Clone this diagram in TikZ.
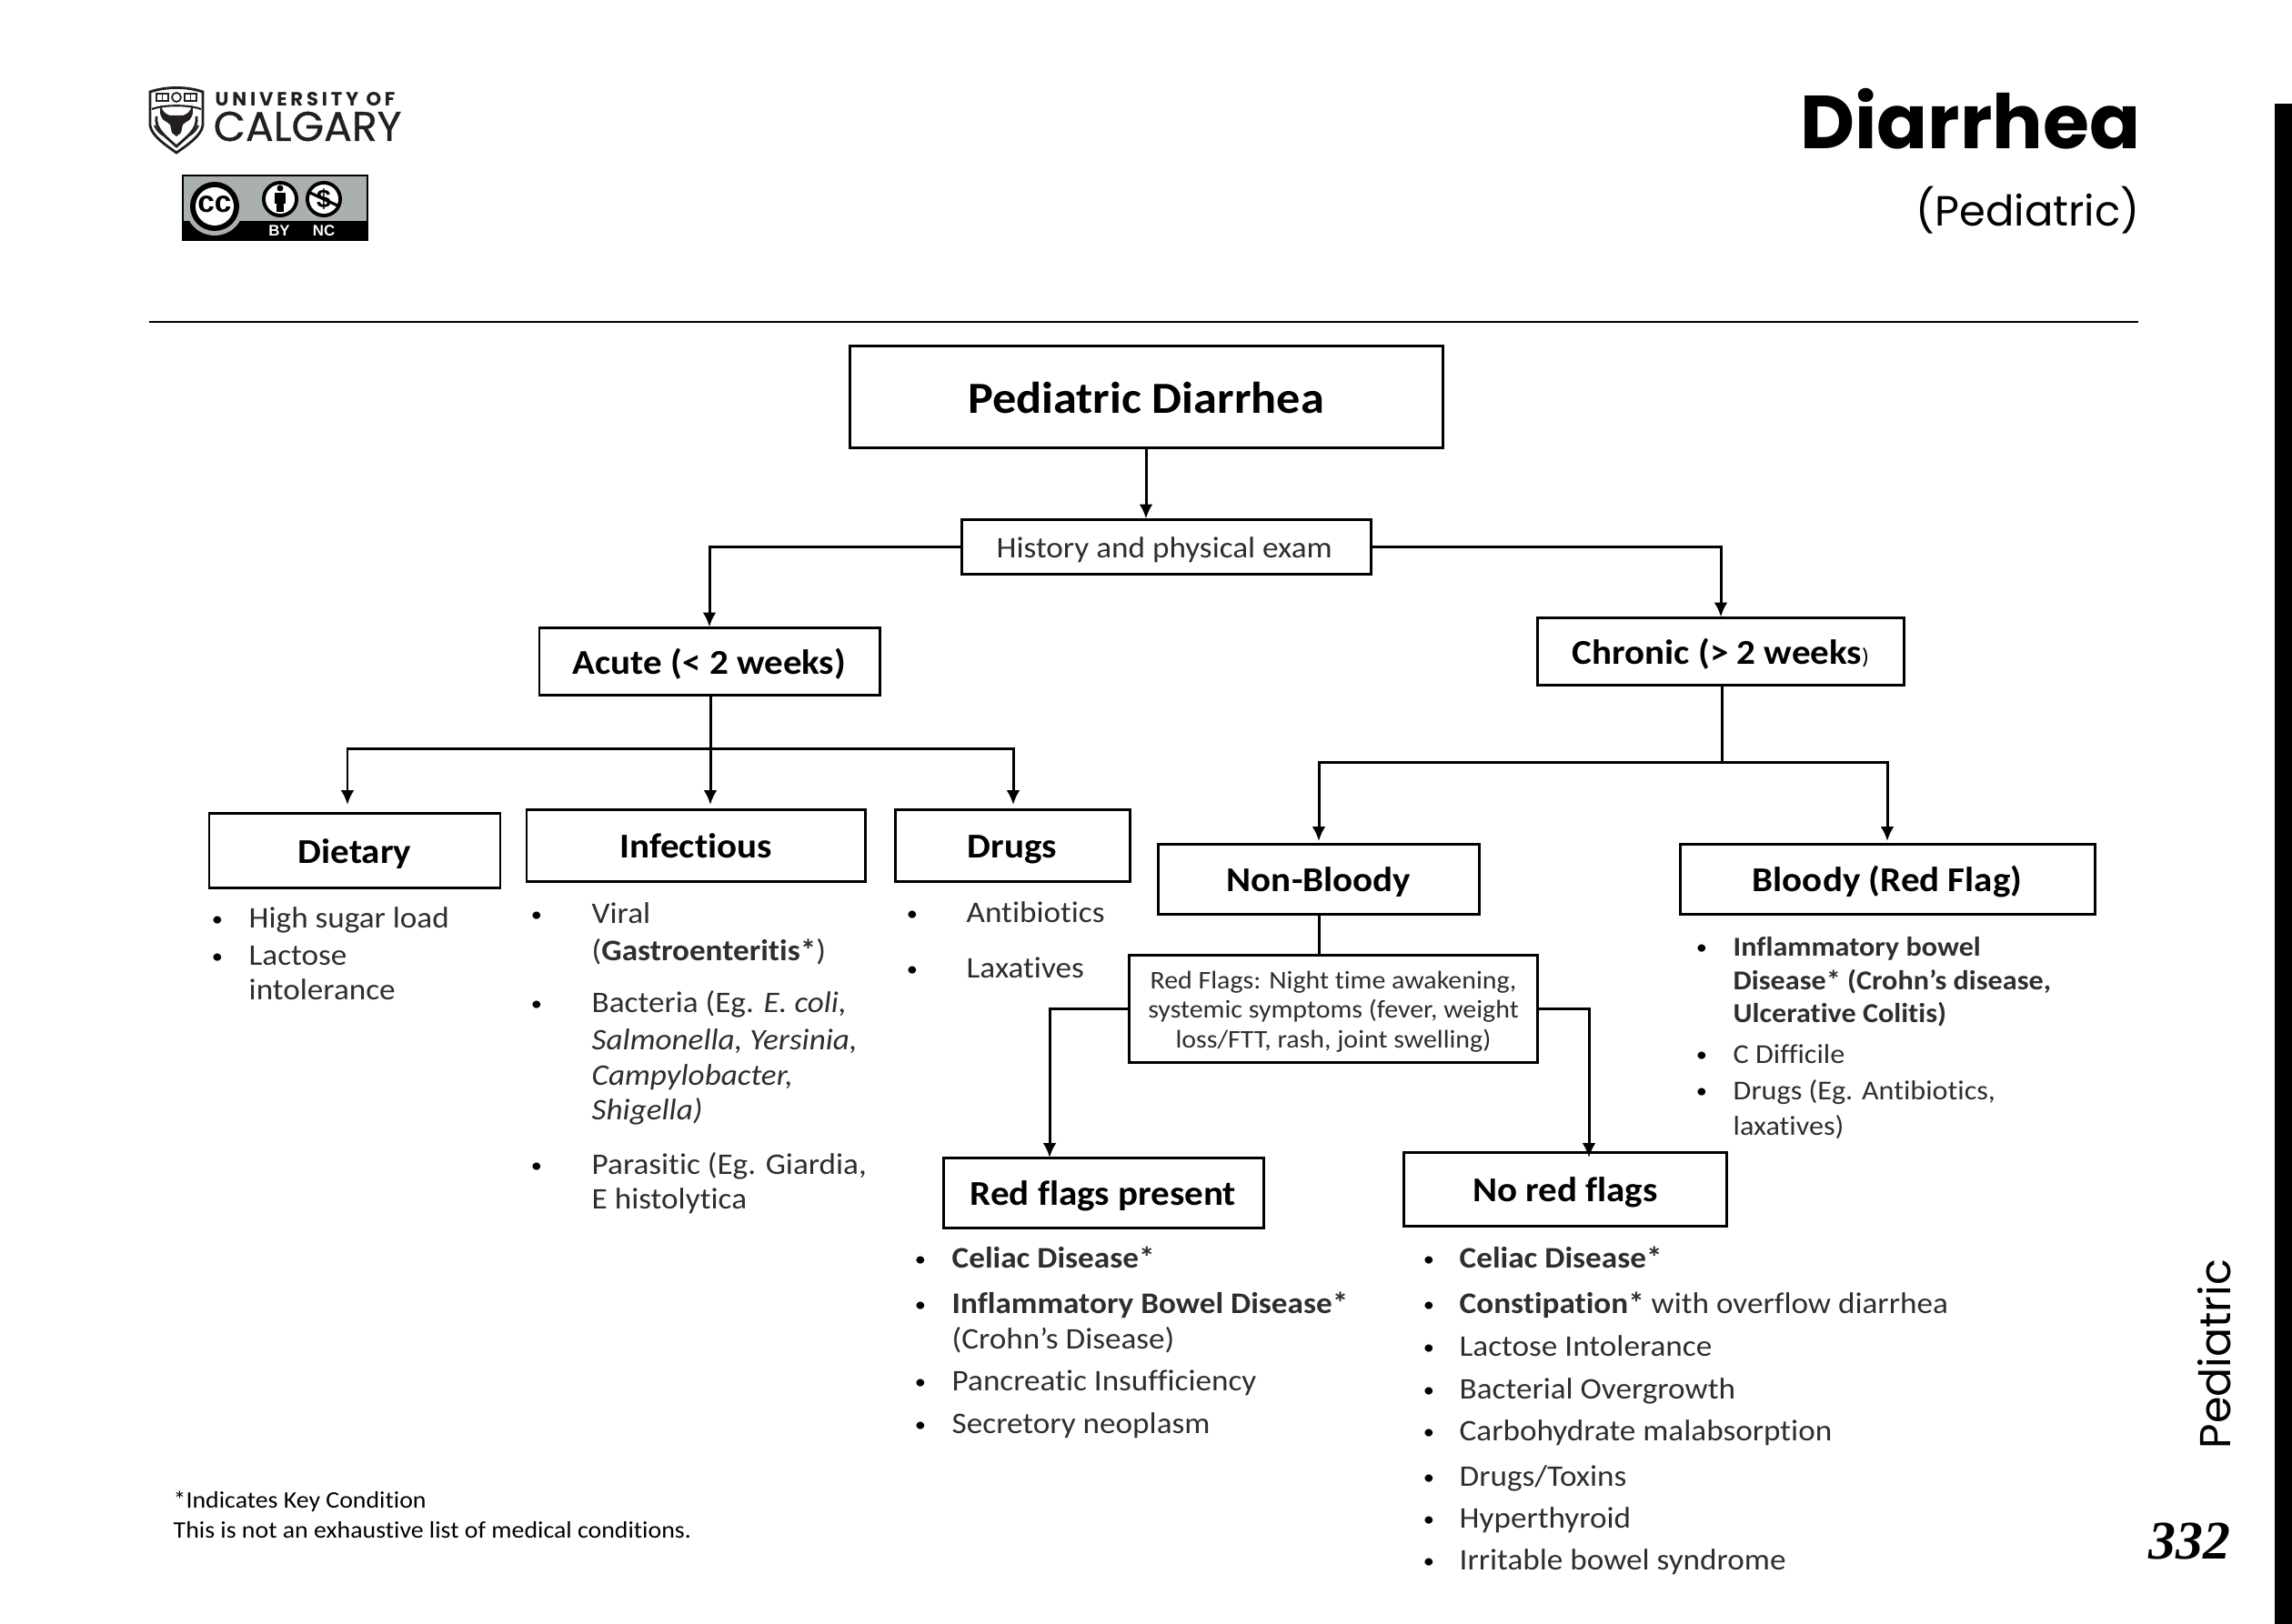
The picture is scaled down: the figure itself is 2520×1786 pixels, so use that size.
\documentclass[tikz,border=0pt]{standalone}
\usepackage{fontspec}
\usepackage{xcolor}
\usepackage{tikz}
\usetikzlibrary{arrows.meta}
\setmainfont[FakeStretch=1.07,Ligatures=NoCommon]{Carlito}
\newfontfamily\headfont{Poppins}
\newfontfamily\pagefont{Liberation Serif}
\newfontfamily\badgefont{Liberation Sans}
\definecolor{bodytext}{HTML}{2E2E2E}
\definecolor{badgegrey}{HTML}{AAB0AB}
\definecolor{logoink}{HTML}{231F20}
\tikzset{
  flowbox/.style={draw=black, line width=0.85pt, fill=white, inner sep=0pt, align=center, text height=8.8pt, text depth=1pt, font=\fontsize{10.9}{12}\selectfont\bfseries},
  flagtext/.style={draw=black, line width=0.85pt, fill=white, inner sep=0pt, align=center, text=bodytext, font=\fontsize{7.95}{9.25}\selectfont},
  lab/.style={anchor=base west, inner sep=0pt, yshift=-0.015cm, text=bodytext, font=\fontsize{9.35}{10}\selectfont},
  smalllab/.style={lab, font=\fontsize{8.55}{9}\selectfont},
  footlab/.style={lab, text=black, font=\fontsize{7.4}{9}\selectfont},
  bul/.style={anchor=base, inner sep=0pt, text=black, font=\fontsize{6.5}{8}\selectfont},
  arr/.style={draw=black, line width=0.85pt, -{Latex[length=4.5pt,width=4.2pt]}},
  plain/.style={draw=black, line width=0.85pt}
}

\begin{document}
\begin{tikzpicture}[x=0.01cm, y=-0.01cm]
  \useasboundingbox (0,0) rectangle (2520,1786);
  \fill[white] (0,0) rectangle (2520,1786);

  % side bar and header rule
  \fill[black] (2501,114) rectangle (2520,1786);
  \draw[black, line width=0.6pt] (164,354) -- (2351,354);

  % logo
  \draw[logoink, line width=0.8pt, fill=white] (165,101) .. controls (183,95) and (205,95) .. (223,101) -- (223,138) .. controls (221,150) and (205,160) .. (194,168) .. controls (183,160) and (167,150) .. (165,138) -- cycle;
  \draw[logoink, line width=0.5pt] (172,103) rectangle (185,111) (203,103) rectangle (216,111);
  \draw[logoink, line width=0.5pt] (178.5,103) -- (178.5,111) (209.5,103) -- (209.5,111);
  \draw[logoink, line width=0.5pt] (194,107) circle (5);
  \draw[logoink, line width=0.6pt] (167,120) .. controls (180,115) and (208,115) .. (221,120);
  \fill[logoink] (177,115) .. controls (178,124) and (184,126) .. (187,127) -- (201,127) .. controls (204,126) and (210,124) .. (211,115) .. controls (214,126) and (210,132) .. (205,134) -- (201,137) -- (199,146) -- (194,150) -- (189,146) -- (187,137) -- (183,134) .. controls (178,132) and (174,126) .. (177,115) -- cycle;
  \draw[logoink, line width=0.8pt] (172,128) .. controls (170,142) and (182,150) .. (194,161) .. controls (206,150) and (218,142) .. (216,128);
  \draw[logoink, line width=0.6pt] (170,138) .. controls (174,146) and (178,148) .. (182,150) (218,138) .. controls (214,146) and (210,148) .. (206,150);
  \node[anchor=base west, inner sep=0pt, text=logoink] (uniname) at (236,117) {\headfont\fontsize{6.0}{7}\selectfont\bfseries\addfontfeatures{LetterSpace=18}UNIVERSITY OF};
  \node[anchor=base west, inner sep=0pt, text=logoink] (calname) at (234,155) {\headfont\fontsize{13}{14}\selectfont\addfontfeatures{FakeBold=0.6}CALGARY};

  % licence badge
  \fill[badgegrey] (201,193) rectangle (404,264);
  \fill[black] (201,243) rectangle (404,264);
  \draw[black, line width=0.3pt] (201,193) rectangle (404,264);
  \begin{scope}
    \clip (201,193) rectangle (404,264);
    \fill[badgegrey] (236,227) circle (32);
    \fill[black] (236,227) circle (27);
    \fill[white] (236,227) circle (21);
  \end{scope}
  \node[inner sep=0pt] (ccmark) at (236,225) {\badgefont\fontsize{9.5}{10}\selectfont\bfseries cc};
  \fill[black] (308,219) circle (20);
  \fill[white] (308,219) circle (16);
  \fill[black] (308,207) circle (3.5);
  \fill[black] (302,212) rectangle (314,224);
  \fill[black] (304,224) rectangle (312,233);
  \fill[black] (356,219) circle (20);
  \fill[white] (356,219) circle (16);
  \node[inner sep=0pt] (dollar) at (356,219) {\badgefont\fontsize{8}{9}\selectfont\bfseries\$};
  \draw[black, line width=0.9pt] (341,212) -- (371,226);
  \node[inner sep=0pt, text=white] (bytag) at (307,254) {\badgefont\fontsize{4.8}{5}\selectfont\bfseries BY};
  \node[inner sep=0pt, text=white] (nctag) at (356,254) {\badgefont\fontsize{4.8}{5}\selectfont\bfseries NC};

  % page titles
  \node[anchor=base east, inner sep=0pt] (maintitle) at (2354,164) {\headfont\fontsize{23.5}{25}\selectfont\bfseries Diarrhea};
  \node[anchor=base east, inner sep=0pt] (subtitle) at (2353,249) {\headfont\fontsize{13.2}{15}\selectfont (Pediatric)};
  \node[anchor=base west, inner sep=0pt, rotate=90] (sidetag) at (2452,1594) {\headfont\fontsize{13.5}{15}\selectfont Pediatric};
  \node[anchor=base east, inner sep=0pt] (pagenum) at (2453,1715) {\pagefont\fontsize{17}{19}\selectfont\bfseries\itshape 332};

  % boxes
  \node[flowbox, minimum width=652*0.01cm, minimum height=112*0.01cm, text height=11.2pt, text depth=1pt, font=\fontsize{13.9}{15}\selectfont\bfseries] (topbox) at (1260,437) {Pediatric Diarrhea};
  \node[flowbox, minimum width=450*0.01cm, minimum height=60*0.01cm, text height=7.5pt, text depth=1pt, font=\fontsize{9.35}{10}\selectfont, text=bodytext] (histbox) at (1282,602) {History and physical exam\hspace{1pt}};
  \node[flowbox, minimum width=374*0.01cm, minimum height=74*0.01cm] (acutebox) at (780,728) {Acute (< 2 weeks)};
  \node[flowbox, minimum width=403*0.01cm, minimum height=74*0.01cm] (chronicbox) at (1892,717) {Chronic (> 2 weeks{\fontsize{7}{8}\selectfont\mdseries )}};
  \node[flowbox, minimum width=320*0.01cm, minimum height=82*0.01cm] (dietbox) at (390,936) {Dietary};
  \node[flowbox, minimum width=372*0.01cm, minimum height=79*0.01cm] (infbox) at (765,930) {Infectious};
  \node[flowbox, minimum width=258*0.01cm, minimum height=79*0.01cm] (drugbox) at (1113,930) {Drugs};
  \node[flowbox, minimum width=353*0.01cm, minimum height=77*0.01cm] (nonbox) at (1450,967) {Non-Bloody};
  \node[flowbox, minimum width=456*0.01cm, minimum height=77*0.01cm] (bloodbox) at (2075,967) {Bloody (Red Flag)};
  \node[flagtext, minimum width=449*0.01cm, minimum height=118*0.01cm] (flagbox) at (1466,1110) {\rule{0pt}{7pt}Red Flags: Night time awakening,\\systemic symptoms (fever, weight\\loss/FTT, rash, joint swelling)};
  \node[flowbox, minimum width=352*0.01cm, minimum height=77*0.01cm] (presentbox) at (1213,1312) {Red flags present};
  \node[flowbox, minimum width=355*0.01cm, minimum height=81*0.01cm] (noflagbox) at (1721,1308) {No red flags};

  % free ends of the arrows that stop short of a box
  \coordinate (acutebus) at (781,824);
  \coordinate (chronicbus) at (1893,839);
  \coordinate (dietin) at (382,885);
  \coordinate (infin) at (781,885);
  \coordinate (drugin) at (1114,885);
  \coordinate (nonin) at (1450,925);
  \coordinate (bloodin) at (2075,925);
  \coordinate (presentin) at (1154,1273);
  \coordinate (noflagin) at (1747,1273);

  % connectors
  \draw[arr] (topbox.south) -- (topbox.south |- histbox.north);
  \draw[arr] (histbox.west) -| (acutebox.north);
  \draw[arr] (histbox.east) -| (chronicbox.north);
  \draw[plain] (acutebox.south -| acutebus) -- (acutebus);
  \draw[arr] (acutebus) -| (dietin);
  \draw[arr] (acutebus) -- (infin);
  \draw[arr] (acutebus) -| (drugin);
  \draw[plain] (chronicbox.south -| chronicbus) -- (chronicbus);
  \draw[arr] (chronicbus) -| (nonin);
  \draw[arr] (chronicbus) -| (bloodin);
  \draw[plain] (nonbox.south) -- (nonbox.south |- flagbox.north);
  \draw[arr] (flagbox.west) -| (presentin);
  \draw[arr] (flagbox.east) -| (noflagin);

  % bullets
  \foreach \x/\y [count=\i] in {239/1019,239/1060,
      590/1014,590/1112,590/1290,
      1003/1013,1003/1074,
      1871/1050,1871/1168,1871/1208,
      1012/1393,1012/1443,1012/1528,1012/1575,
      1571/1393,1571/1443,1571/1490,1571/1537,1571/1583,1571/1633,1571/1679,1571/1725}
    \node[bul] (bul\i) at (\x,\y) {•};

  % dietary
  \node[lab] (dietA) at (273,1019) {High sugar load};
  \node[lab] (dietB) at (273,1060) {Lactose};
  \node[lab] (dietC) at (273,1098) {intolerance};

  % infectious
  \node[lab] (infA) at (650,1014) {Viral};
  \node[lab] (infB) at (650,1055) {(\textbf{Gastroenteritis*})};
  \node[lab] (infC) at (650,1112) {Bacteria (Eg. \textit{E. coli,}};
  \node[lab] (infD) at (650,1153) {\textit{Salmonella, Yersinia,}};
  \node[lab] (infE) at (650,1192) {\textit{Campylobacter,}};
  \node[lab] (infF) at (650,1230) {\textit{Shigella)}};
  \node[lab] (infG) at (650,1290) {Parasitic (Eg. Giardia,};
  \node[lab] (infH) at (650,1328) {E histolytica};

  % drugs
  \node[lab] (drugA) at (1062,1013) {Antibiotics};
  \node[lab] (drugB) at (1062,1074) {Laxatives};

  % bloody
  \node[smalllab] (bloodA) at (1905,1050) {\textbf{Inflammatory bowel}};
  \node[smalllab] (bloodB) at (1905,1087) {\textbf{Disease* (Crohn’s disease,}};
  \node[smalllab] (bloodC) at (1905,1123) {\textbf{Ulcerative Colitis)}};
  \node[smalllab] (bloodD) at (1905,1168) {C Difficile};
  \node[smalllab] (bloodE) at (1905,1208) {Drugs (Eg. Antibiotics,};
  \node[smalllab] (bloodF) at (1905,1247) {laxatives)};

  % red flags present
  \node[lab] (presA) at (1046,1393) {\textbf{Celiac Disease*}};
  \node[lab] (presB) at (1046,1443) {\textbf{Inflammatory Bowel Disease*}};
  \node[lab] (presC) at (1046,1482) {(Crohn’s Disease)};
  \node[lab] (presD) at (1046,1528) {Pancreatic Insufficiency};
  \node[lab] (presE) at (1046,1575) {Secretory neoplasm};

  % no red flags
  \node[lab] (noA) at (1604,1393) {\textbf{Celiac Disease*}};
  \node[lab] (noB) at (1604,1443) {\textbf{Constipation*} with overflow diarrhea};
  \node[lab] (noC) at (1604,1490) {Lactose Intolerance};
  \node[lab] (noD) at (1604,1537) {Bacterial Overgrowth};
  \node[lab] (noE) at (1604,1583) {Carbohydrate malabsorption};
  \node[lab] (noF) at (1604,1633) {Drugs/Toxins};
  \node[lab] (noG) at (1604,1679) {Hyperthyroid};
  \node[lab] (noH) at (1604,1725) {Irritable bowel syndrome};

  % footnote
  \node[footlab] (footA) at (190,1657) {*Indicates Key Condition};
  \node[footlab] (footB) at (190,1690) {This is not an exhaustive list of medical conditions.};
\end{tikzpicture}
\end{document}
